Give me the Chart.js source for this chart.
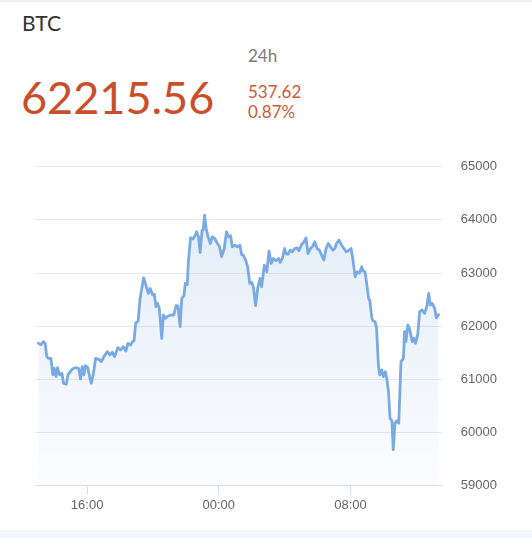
<!DOCTYPE html>
<html>
<head>
<meta charset="utf-8">
<script src="https://cdn.jsdelivr.net/npm/chart.js@4.4.1/dist/chart.umd.min.js"></script>
<style>
  html, body { margin: 0; padding: 0; background: #ffffff; }
  body { width: 532px; height: 538px; position: relative; overflow: hidden; }
  .topline { position: absolute; left: 0; top: 0; width: 532px; height: 2px; background: #eef0f6; }
  .bottomband { position: absolute; left: 0; top: 530px; width: 532px; height: 8px; background: #f4f5fa; }
  .t { position: absolute; font-family: Lato, "Open Sans", sans-serif; line-height: 1; white-space: nowrap; }
  #sym { left: 22px; top: 12px; font-size: 21px; color: #333333; }
  #price { left: 21px; top: 75px; font-size: 45px; color: #c94f2c; }
  #per { left: 248px; top: 47px; font-size: 17px; color: #7a7a7a; }
  #chg { left: 248px; top: 83px; font-size: 17px; color: #cc5a3a; }
  #pct { left: 248px; top: 103px; font-size: 17px; color: #cc5a3a; }
  #wrap { position: absolute; left: 0; top: 140px; width: 532px; height: 390px; }
</style>
</head>
<body>
<div class="topline"></div>
<div class="t" id="sym">BTC</div>
<div class="t" id="price">62215.56</div>
<div class="t" id="per">24h</div>
<div class="t" id="chg">537.62</div>
<div class="t" id="pct">0.87%</div>
<div id="wrap"><canvas id="c" width="532" height="390"></canvas></div>
<div class="bottomband"></div>
<script>
// Header values
const symbol = "BTC";
const lastPrice = "62215.56";
const change24h = "537.62";
const changePct = "0.87%";

// Time of each sample, in minutes relative to 00:00 (negative = previous day)
const minutes = [
  -658, -648, -639, -633, -627, -621, -612, -605, -600, -593, -588, -580, -572, -566, -556, -550,
  -535, -523, -511, -504, -498, -492, -486, -478, -471, -465, -458, -449, -437, -428, -419, -406,
  -397, -388, -380, -368, -358, -348, -339, -331, -321, -315, -309, -303, -299, -294, -287, -274,
  -266, -257, -250, -241, -235, -229, -223, -217, -208, -202, -195, -185, -174, -164, -156, -149,
  -141, -135, -127, -122, -115, -111, -103, -94, -86, -81, -74, -68, -61, -57, -52, -46,
  -39, -31, -24, -15, -5, 3, 10, 20, 28, 36, 43, 49, 58, 68, 77, 83,
  89, 98, 105, 113, 120, 126, 134, 142, 150, 156, 166, 175, 183, 191, 199, 208,
  218, 224, 232, 240, 245, 252, 260, 268, 276, 285, 292, 301, 310, 318, 325, 334,
  342, 350, 358, 367, 374, 383, 391, 399, 407, 416, 423, 429, 438, 448, 456, 465,
  475, 482, 489, 497, 505, 513, 521, 526, 533, 538, 546, 550, 558, 563, 570, 575,
  582, 587, 594, 600, 607, 612, 619, 624, 631, 636, 642, 649, 656, 664, 673, 677,
  682, 689, 695, 705, 711, 717, 725, 732, 741, 750, 758, 765, 771, 778, 787, 793,
  801
];

// BTC price at each sample (USD)
const prices = [
  61675, 61650, 61707, 61675, 61425, 61393, 61393, 61081, 61205, 61050, 61218, 61081, 61111, 60923, 60905, 61081,
  61186, 61218, 61205, 61006, 61237, 61081, 61256, 61218, 61050, 60923, 61081, 61393, 61374, 61331, 61425, 61519,
  61457, 61506, 61425, 61594, 61551, 61613, 61532, 61675, 61645, 61707, 61720, 62060, 62070, 62100, 62521, 62910,
  62773, 62615, 62709, 62585, 62600, 62365, 62427, 62333, 61770, 62209, 62145, 62190, 62209, 62209, 62384, 62380,
  61989, 62521, 62572, 62803, 62780, 63211, 63662, 63638, 63713, 63775, 63681, 63386, 63807, 63807, 64089, 63838,
  63681, 63555, 63681, 63650, 63555, 63493, 63305, 63461, 63775, 63681, 63700, 63493, 63524, 63493, 63524, 63350,
  63337, 63243, 63117, 62803, 62822, 62741, 62384, 62722, 62897, 62741, 63149, 63023, 63412, 63180, 63273, 63230,
  63273, 63198, 63286, 63461, 63367, 63350, 63430, 63400, 63461, 63474, 63420, 63524, 63587, 63662, 63367, 63461,
  63500, 63587, 63461, 63430, 63337, 63243, 63461, 63555, 63493, 63430, 63461, 63555, 63618, 63524, 63461, 63399,
  63430, 63461, 63243, 62929, 63023, 63000, 63117, 63036, 63023, 62840, 62521, 62491, 62145, 62096, 62083, 61957,
  61237, 61081, 61175, 61050, 61143, 61018, 60736, 60266, 60216, 59671, 60171, 60216, 60171, 61331, 61393, 61895,
  61707, 62021, 61957, 61707, 61770, 61675, 61833, 62271, 62303, 62240, 62365, 62615, 62397, 62427, 62333, 62158,
  62215.56
];

// Axis ticks
const xTickMinutes = [-480, 0, 480];
const xTickLabels = ["16:00", "00:00", "08:00"];
const yTicks = [59000, 60000, 61000, 62000, 63000, 64000, 65000];

const points = minutes.map((m, i) => ({ x: m, y: prices[i] }));

const ctx = document.getElementById('c').getContext('2d');
new Chart(ctx, {
  type: 'line',
  data: {
    datasets: [{
      data: points,
      borderColor: '#7aaae4',
      borderWidth: 2.8,
      borderJoinStyle: 'round',
      borderCapStyle: 'round',
      pointRadius: 0,
      tension: 0,
      fill: 'start',
      backgroundColor: (c) => {
        const area = c.chart.chartArea;
        if (!area) return 'rgba(122,168,226,0.12)';
        const g = c.chart.ctx.createLinearGradient(0, area.top, 0, area.bottom);
        g.addColorStop(0, 'rgba(122,168,226,0.24)');
        g.addColorStop(1, 'rgba(122,168,226,0.03)');
        return g;
      }
    }]
  },
  options: {
    responsive: false,
    animation: false,
    events: [],
    layout: { padding: { left: 35, top: 25, right: 16, bottom: 14 } },
    plugins: { legend: { display: false }, tooltip: { enabled: false } },
    scales: {
      x: {
        type: 'linear',
        min: -670,
        max: 813,
        afterBuildTicks: (axis) => { axis.ticks = xTickMinutes.map(v => ({ value: v })); },
        ticks: {
          autoSkip: false,
          maxRotation: 0,
          padding: 3,
          color: '#666666',
          font: { family: '"Liberation Sans", Arial, sans-serif', size: 13 },
          callback: (v) => { const i = xTickMinutes.indexOf(v); return i >= 0 ? xTickLabels[i] : ''; }
        },
        grid: { drawOnChartArea: false, drawTicks: true, tickLength: 9, color: '#d6ddec', tickColor: '#d6ddec' },
        border: { display: true, color: '#d6ddec', width: 1 }
      },
      y: {
        position: 'right',
        min: 59000,
        max: 65000,
        afterBuildTicks: (axis) => { axis.ticks = yTicks.map(v => ({ value: v })); },
        ticks: {
          padding: 19,
          color: '#666666',
          font: { family: '"Liberation Sans", Arial, sans-serif', size: 13 },
          callback: (v) => String(v)
        },
        grid: {
          drawTicks: false,
          color: (c) => (c.tick && c.tick.value === 59000) ? 'rgba(0,0,0,0)' : '#e8e8ec',
          lineWidth: 1
        },
        border: { display: false }
      }
    }
  }
});
</script>
</body>
</html>
